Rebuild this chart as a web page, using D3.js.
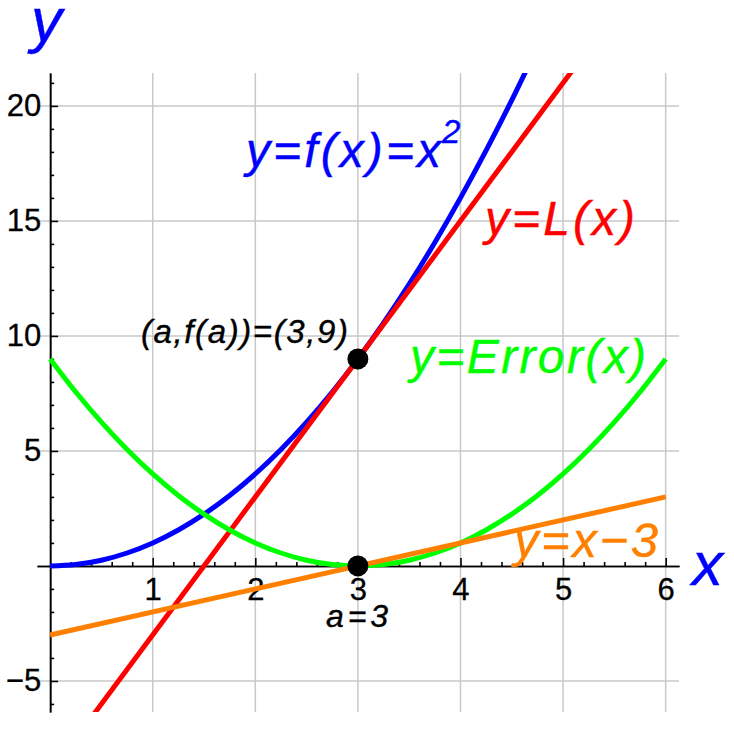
<!DOCTYPE html>
<html>
<head>
<meta charset="utf-8">
<script src="https://cdn.jsdelivr.net/npm/d3@7"></script>
<style>
  body { margin: 0; background: #fff; }
  svg { display: block; }
  .tick text { font-family: "Liberation Sans", Arial, sans-serif; font-size: 31px; fill: #000; stroke: #000; stroke-width: 0.3px; }
  .lbl { font-family: "Liberation Sans", Arial, sans-serif; font-style: italic; stroke-width: 0.4px; }
</style>
</head>
<body>
<svg id="plot" width="734" height="732"></svg>
<script>
const width = 734;
const height = 732;

/* DATA */
const xTicks = [1, 2, 3, 4, 5, 6];
const yTicks = [-5, 5, 10, 15, 20];

// sample points along each curve
const curveX = [0, 0.25, 0.5, 0.75, 1, 1.25, 1.5, 1.75, 2, 2.25, 2.5, 2.75, 3,
  3.25, 3.5, 3.75, 4, 4.25, 4.5, 4.75, 5, 5.25, 5.5, 5.75, 6];
const fValues = [0, 0.0625, 0.25, 0.5625, 1, 1.5625, 2.25, 3.0625, 4, 5.0625, 6.25, 7.5625, 9,
  10.5625, 12.25, 14.0625, 16, 18.0625, 20.25, 22.5625];
const lineX = [0.25, 5.25];
const lineValues = [-7.5, 22.5];
const errorValues = [9, 7.5625, 6.25, 5.0625, 4, 3.0625, 2.25, 1.5625, 1, 0.5625, 0.25, 0.0625, 0,
  0.0625, 0.25, 0.5625, 1, 1.5625, 2.25, 3.0625, 4, 5.0625, 6.25, 7.5625, 9];
const diffX = [0, 6];
const diffValues = [-3, 3];

const points = [{x: 3, y: 9}, {x: 3, y: 0}];


/* SCALES */
const x = d3.scaleLinear().domain([-0.128, 6.13]).range([37, 679]);
const y = d3.scaleLinear().domain([-6.35, 21.43]).range([712, 73]);

const svg = d3.select("svg#plot");

svg.append("defs").append("clipPath").attr("id", "clip")
  .append("rect")
  .attr("x", x.range()[0]).attr("y", y.range()[1])
  .attr("width", x.range()[1] - x.range()[0])
  .attr("height", y.range()[0] - y.range()[1]);


/* GRID */
const grid = svg.append("g").attr("id", "grid")
  .attr("stroke", "#c8c8c8").attr("stroke-width", 1.5);

grid.selectAll("line.vx").data(xTicks).enter().append("line")
  .attr("class", "vx")
  .attr("x1", d => x(d)).attr("x2", d => x(d))
  .attr("y1", y.range()[1]).attr("y2", y.range()[0]);

grid.selectAll("line.hy").data(yTicks).enter().append("line")
  .attr("class", "hy")
  .attr("x1", x.range()[0]).attr("x2", x.range()[1])
  .attr("y1", d => y(d)).attr("y2", d => y(d));


/* AXES */
const minorX = d3.range(-0.0, 6.11, 0.2).filter(v => Math.abs(v - Math.round(v)) > 0.01);
const minorY = d3.range(-6, 22, 1).filter(v => v % 5 !== 0);

svg.append("g").attr("transform", translate(0, y(0)))
  .call(d3.axisBottom(x).tickValues(minorX).tickSize(-4).tickSizeOuter(0).tickFormat(""));
svg.append("g").attr("transform", translate(x(0), 0))
  .call(d3.axisLeft(y).tickValues(minorY).tickSize(-4).tickSizeOuter(0).tickFormat(""));

svg.append("g").attr("id", "x-axis").attr("transform", translate(0, y(0)))
  .call(d3.axisBottom(x).tickValues(xTicks).tickSize(-8).tickSizeOuter(0).tickPadding(12)
    .tickFormat(d3.format("d")));
svg.append("g").attr("id", "y-axis").attr("transform", translate(x(0), 0))
  .call(d3.axisLeft(y).tickValues(yTicks).tickSize(-8).tickSizeOuter(0).tickPadding(9)
    .tickFormat(d => d < 0 ? "\u2212" + Math.abs(d) : String(d)));

svg.selectAll(".domain").attr("stroke", "#000").attr("stroke-width", 1.6);
svg.selectAll(".tick line").attr("stroke", "#000").attr("stroke-width", 1.6);
svg.selectAll(".tick text").attr("font-family", null).attr("font-size", null);


/* CURVES */
const curves = svg.append("g").attr("clip-path", "url(#clip)")
  .attr("fill", "none").attr("stroke-width", 5);

function drawCurve(xs, ys, color) {
  const pts = ys.map((v, i) => [xs[i], v]);
  curves.append("path")
    .datum(pts)
    .attr("stroke", color)
    .attr("d", d3.line().x(d => x(d[0])).y(d => y(d[1])).curve(d3.curveCatmullRom));
}

drawCurve(curveX, fValues, "#0000ff");
drawCurve(lineX, lineValues, "#ff0000");
drawCurve(curveX, errorValues, "#00ff00");
drawCurve(diffX, diffValues, "#ff8000");

svg.selectAll("circle.pt").data(points).enter().append("circle")
  .attr("class", "pt")
  .attr("cx", d => x(d.x)).attr("cy", d => y(d.y)).attr("r", 10.5)
  .attr("fill", "#000");


/* LABELS */
function label(txt, px, py, size, color, len) {
  const t = svg.append("text").attr("class", "lbl")
    .attr("x", px).attr("y", py)
    .attr("font-size", size).attr("fill", color).attr("stroke", color)
    .text(txt);
  if (len) t.attr("textLength", len).attr("lengthAdjust", "spacing");
  return t;
}

label("y", 31, 41, 62, "#0000ff");
label("x", 692, 585, 62, "#0000ff");

label("y=f(x)=x", 246, 167, 48, "#0000ff", 195);
label("2", 442, 143, 33, "#0000ff");
label("y=L(x)", 485, 235, 48, "#ff0000", 150);
label("y=Error(x)", 410, 373, 48, "#00ff00", 236);
label("y=x\u22123", 514, 557, 49, "#ff8000", 144);
label("(a,f(a))=(3,9)", 141, 343, 33, "#000", 207);
label("a=3", 326, 627, 32, "#000", 62);


function translate(px, py) {
  return 'translate(' + String(px) + ',' + String(py) + ')';
}
</script>
</body>
</html>
